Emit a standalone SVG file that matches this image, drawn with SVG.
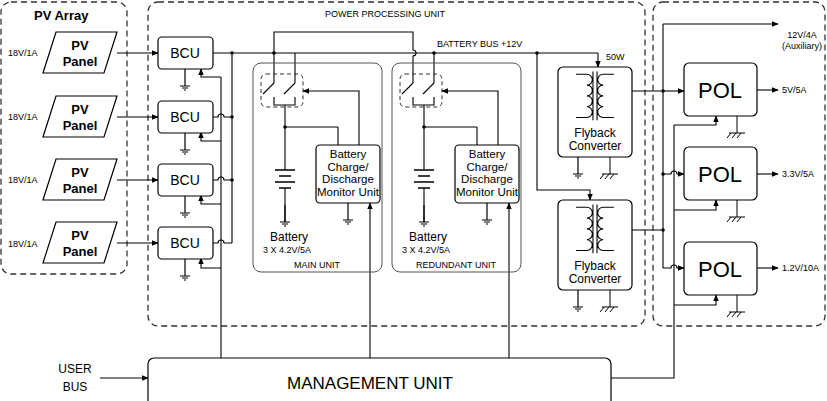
<svg xmlns="http://www.w3.org/2000/svg" width="827" height="401" viewBox="0 0 827 401">
<style>
.b{fill:#fff;stroke:#000;stroke-width:1.2}
.d{fill:none;stroke:#333;stroke-width:1.3;stroke-dasharray:6,4}
.w{fill:none;stroke:#000;stroke-width:1.1}
.a{fill:none;stroke:#000;stroke-width:1.1;marker-end:url(#ar)}
text{font-family:"Liberation Sans",Arial,sans-serif;fill:#000}
.s{font-size:9px}
.m{font-size:12px}
.n{font-size:11.5px}
.c{text-anchor:middle}
</style>
<defs>
<marker id="ar" viewBox="0 0 10 10" refX="9" refY="5" markerWidth="7" markerHeight="7" markerUnits="userSpaceOnUse" orient="auto"><path d="M0,1L10,5L0,9z" fill="#000"/></marker>
<g id="gnd"><path d="M0,0v17M-5,17h10M-3,19h6M-1,21h2" stroke="#000" stroke-width="1.2" fill="none"/></g>
<g id="cg"><path d="M0,0v17M-8,17h16M-6,17l-4,5M-1,17l-4,5M4,17l-4,5" stroke="#000" stroke-width="1" fill="none"/></g>
<g id="tr"><path d="M-14,-22h8a4,4 0 0 1 0,8a4,4 0 0 1 0,8a4,4 0 0 1 0,8a4,4 0 0 1 0,8h-8M14,-22h-8a4,4 0 0 0 0,8a4,4 0 0 0 0,8a4,4 0 0 0 0,8a4,4 0 0 0 0,8h8M-1.5,-24v36M1.5,-24v36" stroke="#000" stroke-width="0.8" fill="none"/></g>
</defs>
<g id="groups">
<rect class="d" x="1" y="2" width="126" height="272" rx="10"/>
<text x="34" y="20" font-size="13" font-weight="bold">PV Array</text>
<rect class="d" x="148" y="2" width="497" height="324" rx="10"/>
<text class="s c" x="385" y="17">POWER PROCESSING UNIT</text>
<rect class="d" x="653" y="2" width="172" height="324" rx="10"/>
</g>
<g id="connectors">
<path class="a" d="M117,53H158"/><path class="a" d="M117,117H158"/><path class="a" d="M117,180H158"/><path class="a" d="M117,243H158"/>
<path class="w" d="M213,53H598"/><path class="a" d="M598,53V67"/>
<path class="w" d="M213,117H218a3,3 0 0 1 6,0H232M213,180H218a3,3 0 0 1 6,0H232M213,243H218a3,3 0 0 1 6,0H232M232,53V243"/>
<path class="w" d="M221,358V77"/>
<path class="a" d="M221,77H201V69"/><path class="a" d="M221,141H201V132"/><path class="a" d="M221,204H201V195"/><path class="a" d="M221,268H201V258"/>
<path class="w" d="M274,53V32H413V50a3,3 0 0 1 0,6V83M274,53V83M295,53V83M434,53V83"/>
<path class="a" d="M537,53V190H590V200"/>
<path class="w" d="M632,91H663M632,230H663M663,268V24"/>
<path class="a" d="M663,24H778"/><path class="a" d="M663,91H684"/>
<path class="a" d="M663,174H671a3,3 0 0 1 6,0H684"/><path class="a" d="M663,268H671a3,3 0 0 1 6,0H684"/>
<path class="w" d="M611,378H674V125"/>
<path class="a" d="M674,125H716V116"/><path class="a" d="M674,210H716V200"/><path class="a" d="M674,305H716V295"/>
<path class="a" d="M757,90H778"/><path class="a" d="M757,174H778"/><path class="a" d="M757,268H778"/>
<path class="a" d="M370,358V203"/><path class="a" d="M509,358V203"/>
<path class="a" d="M100,378H148"/>
<g fill="#000"><circle cx="232" cy="53" r="1.8"/><circle cx="232" cy="117" r="1.8"/><circle cx="232" cy="180" r="1.8"/><circle cx="274" cy="53" r="1.8"/><circle cx="434" cy="53" r="1.8"/><circle cx="537" cy="53" r="1.8"/><circle cx="663" cy="91" r="1.8"/><circle cx="663" cy="174" r="1.8"/><circle cx="663" cy="230" r="1.8"/></g>
<text class="s" x="437" y="47">BATTERY BUS  +12V</text>
<text class="s" x="606" y="60">50W</text>
<text class="s c" x="802" y="38">12V/4A</text><text class="s c" x="802" y="49">(Auxiliary)</text>
<text class="s" x="782" y="93">5V/5A</text><text class="s" x="782" y="177">3.3V/5A</text><text class="s" x="782" y="271">1.2V/10A</text>
<text class="m c" x="75" y="373">USER</text><text class="m c" x="75" y="391">BUS</text>
</g>
<g id="pv">
<g font-size="13" font-weight="bold">
<path class="b" d="M56,32H117L104,73H43Z"/><text class="c" x="80" y="50">PV</text><text class="c" x="80" y="66">Panel</text>
<path class="b" d="M56,96H117L104,137H43Z"/><text class="c" x="80" y="114">PV</text><text class="c" x="80" y="130">Panel</text>
<path class="b" d="M56,159H117L104,200H43Z"/><text class="c" x="80" y="177">PV</text><text class="c" x="80" y="193">Panel</text>
<path class="b" d="M56,222H117L104,263H43Z"/><text class="c" x="80" y="240">PV</text><text class="c" x="80" y="256">Panel</text>
</g>
<text class="s" x="8" y="56">18V/1A</text><text class="s" x="8" y="120">18V/1A</text><text class="s" x="8" y="183">18V/1A</text><text class="s" x="8" y="247">18V/1A</text>
</g>
<g id="bcu" font-size="14">
<rect class="b" x="158" y="37" width="55" height="32" rx="4"/><text class="c" x="185" y="58">BCU</text><use href="#gnd" x="185" y="69"/>
<rect class="b" x="158" y="101" width="55" height="32" rx="4"/><text class="c" x="185" y="122">BCU</text><use href="#gnd" x="185" y="133"/>
<rect class="b" x="158" y="164" width="55" height="32" rx="4"/><text class="c" x="185" y="185">BCU</text><use href="#gnd" x="185" y="196"/>
<rect class="b" x="158" y="227" width="55" height="32" rx="4"/><text class="c" x="185" y="248">BCU</text><use href="#gnd" x="185" y="259"/>
</g>
<g id="main-unit">
<rect x="253" y="63" width="129" height="209" rx="8" fill="none" stroke="#555" stroke-width="1"/>
<rect x="261" y="74" width="42" height="33" rx="5" fill="none" stroke="#333" stroke-dasharray="4,3"/>
<path class="w" d="M263,94L274,83M284,94L295,83M274,97V105H295V97M285,105V170M285,188V222M338,127H285M338,127V145"/>
<circle cx="285" cy="127" r="1.8"/>
<path d="M275,170h20M279,176h12M275,182h20M279,188h12" stroke="#000" stroke-width="1.3"/>
<use href="#gnd" x="285" y="205"/>
<path class="a" d="M359,145V91H303"/>
<rect class="b" x="316" y="145" width="64" height="58" rx="4"/>
<text class="n c" x="348" y="158">Battery</text><text class="n c" x="348" y="170.5">Charge/</text><text class="n c" x="348" y="183">Discharge</text><text class="n c" x="348" y="195.5">Monitor Unit</text>
<use href="#gnd" x="348" y="203"/>
<text class="m" x="270" y="241">Battery</text><text class="s" x="263" y="253">3 X 4.2V/5A</text>
<text class="s c" x="317" y="268">MAIN UNIT</text>
</g>
<g id="redundant-unit" transform="translate(139,0)">
<rect x="253" y="63" width="129" height="209" rx="8" fill="none" stroke="#555" stroke-width="1"/>
<rect x="261" y="74" width="42" height="33" rx="5" fill="none" stroke="#333" stroke-dasharray="4,3"/>
<path class="w" d="M263,94L274,83M284,94L295,83M274,97V105H295V97M285,105V170M285,188V222M338,127H285M338,127V145"/>
<circle cx="285" cy="127" r="1.8"/>
<path d="M275,170h20M279,176h12M275,182h20M279,188h12" stroke="#000" stroke-width="1.3"/>
<use href="#gnd" x="285" y="205"/>
<path class="a" d="M359,145V91H303"/>
<rect class="b" x="316" y="145" width="64" height="58" rx="4"/>
<text class="n c" x="348" y="158">Battery</text><text class="n c" x="348" y="170.5">Charge/</text><text class="n c" x="348" y="183">Discharge</text><text class="n c" x="348" y="195.5">Monitor Unit</text>
<use href="#gnd" x="348" y="203"/>
<text class="m" x="270" y="241">Battery</text><text class="s" x="263" y="253">3 X 4.2V/5A</text>
<text class="s c" x="317" y="268">REDUNDANT UNIT</text>
</g>
<g id="flyback1">
<rect class="b" x="558" y="67" width="74" height="90" rx="5"/>
<use href="#tr" transform="translate(595,104) scale(1.35)"/>
<text class="m c" x="595" y="137">Flyback</text><text class="m c" x="595" y="150">Converter</text>
<use href="#gnd" x="578" y="157"/><use href="#cg" x="610" y="157"/>
</g>
<g id="flyback2">
<rect class="b" x="558" y="200" width="74" height="90" rx="5"/>
<use href="#tr" transform="translate(595,237) scale(1.35)"/>
<text class="m c" x="595" y="270">Flyback</text><text class="m c" x="595" y="283">Converter</text>
<use href="#gnd" x="578" y="290"/><use href="#cg" x="610" y="290"/>
</g>
<g id="pol" font-size="22">
<rect class="b" x="684" y="63" width="73" height="53" rx="5"/><text class="c" x="720" y="98">POL</text><use href="#cg" x="737" y="116"/>
<rect class="b" x="684" y="147" width="73" height="53" rx="5"/><text class="c" x="720" y="182">POL</text><use href="#cg" x="737" y="200"/>
<rect class="b" x="684" y="242" width="73" height="53" rx="5"/><text class="c" x="720" y="277">POL</text><use href="#cg" x="737" y="295"/>
</g>
<g id="management">
<rect class="b" x="148" y="358" width="463" height="50" rx="6"/>
<text class="c" x="370" y="389" font-size="17">MANAGEMENT UNIT</text>
</g>
</svg>
